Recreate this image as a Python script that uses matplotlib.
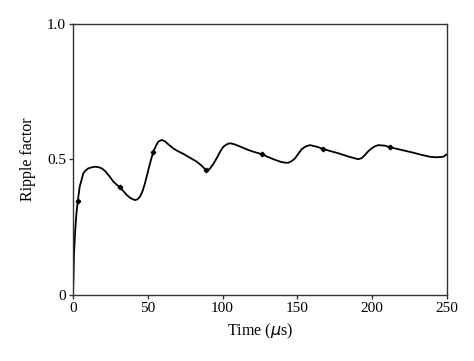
import matplotlib
matplotlib.use("Agg")
import matplotlib.pyplot as plt

# Ripple factor curve
time_us = [0, 0.3, 0.7, 1.5, 2.3, 3.2, 4.5, 5.8, 6.9, 8.5, 10.2, 12.5, 14.7, 17,
           19.2, 21.5, 23.6, 25.3, 27, 29.2, 31.4, 33.7, 35.9, 38.5, 41.4, 43.2,
           44.8, 46.5, 48.1, 49.8, 51.5, 53.7, 55.5, 57, 59.3, 61.5, 63.7, 67, 70,
           73.7, 78, 82.7, 86, 88.9, 90.3, 91.6, 93.8, 96, 98.3, 100.5, 102.8, 105,
           108, 111.6, 117.2, 121.5, 126.1, 130, 133.9, 139, 142, 143.9, 146.2,
           148.4, 150.6, 152.9, 155.5, 158.4, 162.9, 167.3, 172, 177.3, 184, 188.5,
           190.7, 193, 195.2, 197.5, 199.7, 202, 204.1, 208.6, 211.9, 219, 227.5,
           233, 238.6, 243, 247.5, 250]
ripple = [0, 0.06, 0.153, 0.239, 0.30, 0.346, 0.399, 0.425, 0.448, 0.459, 0.466,
          0.470, 0.472, 0.471, 0.466, 0.456, 0.442, 0.430, 0.417, 0.406, 0.396,
          0.382, 0.368, 0.356, 0.349, 0.352, 0.362, 0.382, 0.411, 0.448, 0.485,
          0.528, 0.550, 0.565, 0.571, 0.566, 0.555, 0.540, 0.530, 0.520, 0.506,
          0.491, 0.476, 0.460, 0.460, 0.466, 0.482, 0.503, 0.527, 0.546, 0.555,
          0.559, 0.555, 0.547, 0.534, 0.526, 0.519, 0.509, 0.500, 0.490, 0.487,
          0.487, 0.493, 0.503, 0.520, 0.537, 0.547, 0.552, 0.546, 0.538, 0.530,
          0.522, 0.510, 0.503, 0.500, 0.504, 0.516, 0.530, 0.540, 0.548, 0.552,
          0.550, 0.544, 0.535, 0.524, 0.516, 0.509, 0.507, 0.509, 0.518]

# Small markers placed along the curve
marker_t = [3.2, 31.4, 53.7, 88.9, 126.1, 167.3, 211.9]
marker_r = [0.346, 0.396, 0.528, 0.460, 0.519, 0.538, 0.544]

x_ticks = [0, 50, 100, 150, 200, 250]
y_ticks = [0, 0.5, 1.0]
y_tick_labels = ["0", "0.5", "1.0"]

plt.rcParams["font.family"] = ["Liberation Serif", "DejaVu Serif"]

fig = plt.figure(figsize=(4.74, 3.61), dpi=100)
ax = fig.add_axes([0.154, 0.184, 0.789, 0.750])

ax.plot(time_us, ripple, color="black", linewidth=1.3, solid_joinstyle="round")
ax.plot(marker_t, marker_r, linestyle="none", marker="D", markersize=2.3,
        color="black")

ax.set_xlim(0, 250)
ax.set_ylim(0, 1.0)
ax.set_xticks(x_ticks)
ax.set_yticks(y_ticks)
ax.set_yticklabels(y_tick_labels)
ax.tick_params(direction="out", length=3, width=1, labelsize=11, color="#333333",
               pad=2)

for spine in ax.spines.values():
    spine.set_color("#333333")
    spine.set_linewidth(1.0)

ax.set_xlabel("Time ($\\mu$s)", fontsize=11.5, labelpad=5)
ax.set_ylabel("Ripple factor", fontsize=11.5, labelpad=8)

fig.savefig("out.png", dpi=100)
